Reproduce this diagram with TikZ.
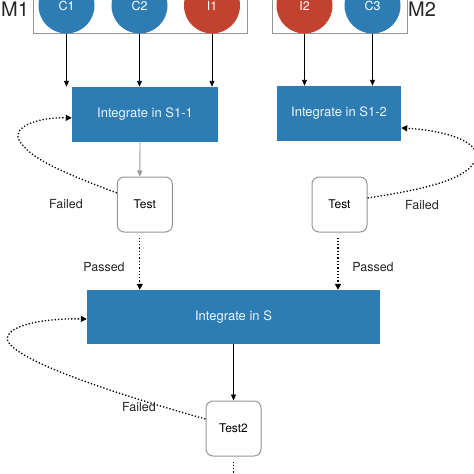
\documentclass[tikz,border=0pt]{standalone}
\usepackage{fontspec}
\setmainfont{TeX Gyre Heros}
\usetikzlibrary{arrows.meta}
\definecolor{bluebox}{RGB}{45,124,180}
\definecolor{redc}{RGB}{192,66,47}
\definecolor{grayline}{RGB}{150,150,150}
\tikzset{
  circ/.style={circle,minimum size=56pt,inner sep=0pt,text=white,font=\fontsize{12.5}{14}\selectfont},
  bluec/.style={circ,fill=bluebox},
  redcirc/.style={circ,fill=redc},
  stagebox/.style={rectangle,fill=bluebox,inner sep=0pt,text=white!92!bluebox,font=\fontsize{13}{15}\selectfont},
  testbox/.style={rectangle,rounded corners=7pt,draw=grayline,line width=1pt,fill=white,minimum width=55pt,minimum height=55pt,inner sep=0pt,font=\fontsize{12}{14}\selectfont},
  modbox/.style={draw=grayline,line width=0.8pt},
  lbl/.style={font=\fontsize{12.5}{14}\selectfont,text=black!85},
  biglbl/.style={font=\fontsize{20}{22}\selectfont,text=black!85},
  arr/.style={line width=0.9pt,-{Triangle[length=6pt,width=5pt]}},
  dotarr/.style={line width=1.3pt,dotted,-{Triangle[length=6pt,width=6pt]}},
}
\begin{document}
\begin{tikzpicture}[x=1pt,y=-1pt]
\useasboundingbox (0,0) rectangle (474,474);
\clip (0,0) rectangle (474,474);
% module boxes
\draw[modbox] (33,-20) rectangle (247,33.5);
\draw[modbox] (272,-20) rectangle (407,33.5);
\node[biglbl] (m1) at (15,9) {M1};
\node[biglbl] (m2) at (422,9) {M2};
% circles
\node[bluec] (c1) at (66.5,5.5) {C1};
\node[bluec] (c2) at (139.5,5.5) {C2};
\node[redcirc] (i1) at (212,5.5) {I1};
\node[redcirc] (i2) at (304.5,5.5) {I2};
\node[bluec] (c3) at (372.5,5.5) {C3};
% stage boxes
\node[stagebox,minimum width=146pt,minimum height=55pt] (s11) at (145,114.5) {Integrate in S1-1};
\node[stagebox,minimum width=124pt,minimum height=55pt] (s12) at (339,113.5) {Integrate in S1-2};
\node[stagebox,minimum width=293pt,minimum height=54pt] (s) at (233.5,317) {Integrate in S};
% tests
\node[testbox] (t1) at (144.8,204.5) {Test};
\node[testbox] (t2) at (339.5,204.5) {Test};
\node[testbox] (t3) at (233.5,428.5) {Test2};
% labels
\node[lbl] (f1) at (66,204) {Failed};
\node[lbl] (f2) at (422,205) {Failed};
\node[lbl] (f3) at (139,407) {Failed};
\node[lbl] (p1) at (104,267) {Passed};
\node[lbl] (p2) at (373,267) {Passed};
% arrows from components
\draw[arr] (c1.south) -- (c1.south |- s11.north);
\draw[arr] (c2.south) -- (c2.south |- s11.north);
\draw[arr] (i1.south) -- (i1.south |- s11.north);
\draw[arr] (i2.south) -- (i2.south |- s12.north);
\draw[arr] (c3.south) -- (c3.south |- s12.north);
% stage to test
\draw[arr,draw=grayline] ([xshift=-5pt]s11.south) -- ([xshift=-5pt]t1.north);
\draw[arr] (s.south) -- (t3.north);
% passed
\draw[dotarr] ([xshift=-5pt,yshift=-5pt]t1.south) -- ([xshift=-5pt]t1.south |- s.north);
\draw[dotarr] ([xshift=-1.5pt,yshift=-5pt]t2.south) -- ([xshift=-1.5pt]t2.south |- s.north);
\coordinate (t3out) at (233.5,480);
\draw[line width=1.3pt,dotted] ([yshift=-5pt]t3.south) -- (t3out);
% failed loops
\draw[dotarr] ([yshift=11.5pt]t1.west) .. controls (70,175) and (30,160) .. (19,140)
   .. controls (12,126) and (40,117) .. ([yshift=-3.5pt]s11.west);
\draw[dotarr] ([yshift=6.5pt]t2.east) .. controls (420,190) and (470,180) .. (476,158)
   .. controls (480,140) and (440,130) .. ([yshift=-14.5pt]s12.east);
\draw[dotarr] ([yshift=9.5pt]t3.west) .. controls (130,398) and (25,365) .. (9,343)
   .. controls (0,330) and (30,318) .. ([yshift=-2pt]s.west);
\end{tikzpicture}
\end{document}
